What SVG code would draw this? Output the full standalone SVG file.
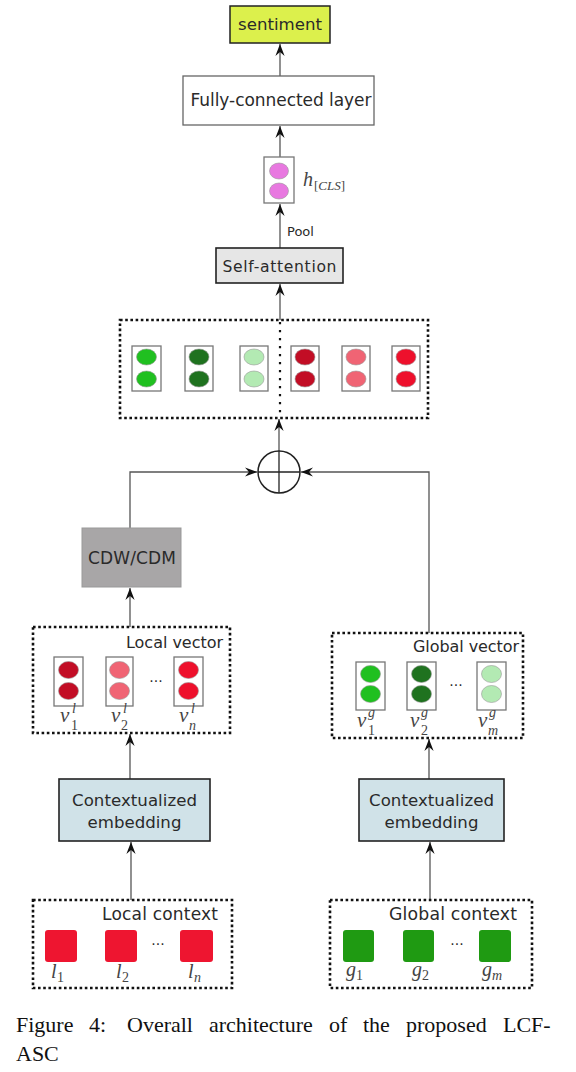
<svg xmlns="http://www.w3.org/2000/svg" width="576" height="1072" viewBox="0 0 576 1072">
<style>
.lbl{font-family:"DejaVu Sans",Verdana,sans-serif;fill:#2a2a2a}
.math{font-family:"Liberation Serif","Times New Roman",serif;font-style:italic;fill:#444}
.rm{font-family:"Liberation Serif","Times New Roman",serif;font-style:normal;fill:#444}
.dot{fill:none;stroke:#111;stroke-width:2.6;stroke-dasharray:2.6 2.6}
.vdot{fill:none;stroke:#111;stroke-width:2.2;stroke-dasharray:2.2 5.8}
.cell{fill:#fff;stroke:#777;stroke-width:1.3}
.conn{fill:none;stroke:#555;stroke-width:1.3}
.cap{font-family:"Liberation Serif","Times New Roman",serif;fill:#111;font-size:22px}
.e{stroke:#999;stroke-width:0.6}
</style>
<defs>
<marker id="arr" viewBox="-13 -6 14 12" refX="0" refY="0" markerWidth="14" markerHeight="12" markerUnits="userSpaceOnUse" orient="auto">
<path d="M0,0 L-12,-4.6 L-8,0 L-12,4.6 Z" fill="#111"/>
</marker>
</defs>
<rect width="576" height="1072" fill="#fff"/>

<g id="connectors">
<line class="conn" x1="280" y1="76" x2="280" y2="44" marker-end="url(#arr)"/>
<line class="conn" x1="280" y1="157" x2="280" y2="126" marker-end="url(#arr)"/>
<line class="conn" x1="280" y1="248" x2="280" y2="204" marker-end="url(#arr)"/>
<text class="lbl" x="287" y="236" font-size="13">Pool</text>
<line class="conn" x1="280" y1="320" x2="280" y2="284" marker-end="url(#arr)"/>
<line class="conn" x1="279" y1="451" x2="279" y2="419" marker-end="url(#arr)"/>
<polyline class="conn" points="130,528 130,472 257,472" marker-end="url(#arr)"/>
<polyline class="conn" points="429,633 429,472 301,472" marker-end="url(#arr)"/>
<line class="conn" x1="130" y1="627" x2="130" y2="588" marker-end="url(#arr)"/>
<line class="conn" x1="130" y1="779" x2="130" y2="734" marker-end="url(#arr)"/>
<line class="conn" x1="429" y1="779" x2="429" y2="739" marker-end="url(#arr)"/>
<line class="conn" x1="131" y1="900" x2="131" y2="842" marker-end="url(#arr)"/>
<line class="conn" x1="430" y1="900" x2="430" y2="842" marker-end="url(#arr)"/>
</g>

<g id="sentiment">
<rect x="230" y="6" width="100" height="37" fill="#dcf04c" stroke="#222" stroke-width="1.5"/>
<text class="lbl" x="280" y="30" font-size="16.6" text-anchor="middle" textLength="84">sentiment</text>
</g>

<g id="fc">
<rect x="183" y="76" width="191" height="49" fill="#fff" stroke="#666" stroke-width="1.3"/>
<text class="lbl" x="281" y="106" font-size="17" text-anchor="middle" textLength="181">Fully-connected layer</text>
</g>

<g id="hcls">
<rect class="cell" x="264" y="157" width="30" height="46"/>
<ellipse class="e" cx="279" cy="171" rx="9.5" ry="8" fill="#e878e0"/>
<ellipse class="e" cx="279" cy="191" rx="9.5" ry="8" fill="#e878e0"/>
<text class="math" x="303" y="186" font-size="20">h</text>
<text class="math" x="314" y="190" font-size="13"><tspan class="rm">[</tspan>CLS<tspan class="rm">]</tspan></text>
</g>

<g id="selfatt">
<rect x="216" y="248" width="127" height="35" fill="#e6e6e6" stroke="#222" stroke-width="1.6"/>
<text class="lbl" x="279.5" y="272" font-size="15.6" text-anchor="middle" textLength="114">Self-attention</text>
</g>

<g id="concat">
<rect class="dot" x="120" y="320" width="308" height="98"/>
<line class="vdot" x1="280" y1="322" x2="280" y2="418"/>
<rect class="cell" x="132" y="346" width="29" height="45"/>
<ellipse class="e" cx="146.5" cy="357" rx="10" ry="8" fill="#20c020"/>
<ellipse class="e" cx="146.5" cy="379" rx="10" ry="8" fill="#20c020"/>
<rect class="cell" x="185" y="346" width="28" height="45"/>
<ellipse class="e" cx="199" cy="357" rx="10" ry="8" fill="#1f721f"/>
<ellipse class="e" cx="199" cy="379" rx="10" ry="8" fill="#1f721f"/>
<rect class="cell" x="240" y="346" width="28" height="45"/>
<ellipse class="e" cx="254" cy="357" rx="10" ry="8" fill="#b3eab3"/>
<ellipse class="e" cx="254" cy="379" rx="10" ry="8" fill="#b3eab3"/>
<rect class="cell" x="291" y="346" width="28" height="45"/>
<ellipse class="e" cx="305" cy="357" rx="10" ry="8" fill="#c20d25"/>
<ellipse class="e" cx="305" cy="379" rx="10" ry="8" fill="#c20d25"/>
<rect class="cell" x="342" y="346" width="28" height="45"/>
<ellipse class="e" cx="356" cy="357" rx="10" ry="8" fill="#f06474"/>
<ellipse class="e" cx="356" cy="379" rx="10" ry="8" fill="#f06474"/>
<rect class="cell" x="392" y="346" width="28" height="45"/>
<ellipse class="e" cx="406" cy="357" rx="10" ry="8" fill="#ee102c"/>
<ellipse class="e" cx="406" cy="379" rx="10" ry="8" fill="#ee102c"/>
</g>

<g id="oplus">
<circle cx="279" cy="472" r="21" fill="#fff" stroke="#222" stroke-width="1.5"/>
<line x1="258" y1="472" x2="300" y2="472" stroke="#222" stroke-width="1.3"/>
<line x1="279" y1="451" x2="279" y2="493" stroke="#222" stroke-width="1.3"/>
</g>

<g id="cdw">
<rect x="82" y="528" width="99" height="59" fill="#a8a6a7" stroke="#999" stroke-width="1"/>
<text class="lbl" x="132" y="564" font-size="17" text-anchor="middle" textLength="88">CDW/CDM</text>
</g>

<g id="localvec">
<rect class="dot" x="33" y="627" width="197" height="106"/>
<text class="lbl" x="223" y="648" font-size="16" text-anchor="end" textLength="97">Local vector</text>
<rect class="cell" x="54" y="657" width="29" height="49"/>
<ellipse class="e" cx="68.5" cy="670" rx="10" ry="8.5" fill="#c20d25"/>
<ellipse class="e" cx="68.5" cy="691" rx="10" ry="8.5" fill="#c20d25"/>
<rect class="cell" x="106" y="657" width="27" height="49"/>
<ellipse class="e" cx="119.5" cy="670" rx="10" ry="8.5" fill="#f06474"/>
<ellipse class="e" cx="119.5" cy="691" rx="10" ry="8.5" fill="#f06474"/>
<text class="lbl" x="156" y="686" font-size="14" text-anchor="middle">···</text>
<rect class="cell" x="174" y="657" width="29" height="49"/>
<ellipse class="e" cx="188.5" cy="670" rx="10" ry="8.5" fill="#ee102c"/>
<ellipse class="e" cx="188.5" cy="691" rx="10" ry="8.5" fill="#ee102c"/>
<text class="math" x="60" y="722" font-size="21">v</text>
<text class="math" x="72" y="713" font-size="14">l</text>
<text class="rm" x="71" y="730" font-size="14">1</text>
<text class="math" x="111" y="722" font-size="21">v</text>
<text class="math" x="123" y="713" font-size="14">l</text>
<text class="rm" x="121" y="730" font-size="14">2</text>
<text class="math" x="179" y="722" font-size="21">v</text>
<text class="math" x="191" y="713" font-size="14">l</text>
<text class="math" x="189" y="730" font-size="14">n</text>
</g>

<g id="globalvec">
<rect class="dot" x="332" y="633" width="191" height="105"/>
<text class="lbl" x="519" y="652" font-size="16" text-anchor="end" textLength="106">Global vector</text>
<rect class="cell" x="356" y="662" width="29" height="48"/>
<ellipse class="e" cx="370.5" cy="674" rx="10" ry="8.5" fill="#20c020"/>
<ellipse class="e" cx="370.5" cy="694" rx="10" ry="8.5" fill="#20c020"/>
<rect class="cell" x="407" y="662" width="29" height="48"/>
<ellipse class="e" cx="421.5" cy="674" rx="10" ry="8.5" fill="#1f721f"/>
<ellipse class="e" cx="421.5" cy="694" rx="10" ry="8.5" fill="#1f721f"/>
<text class="lbl" x="456" y="690" font-size="14" text-anchor="middle">···</text>
<rect class="cell" x="477" y="662" width="29" height="48"/>
<ellipse class="e" cx="491.5" cy="674" rx="10" ry="8.5" fill="#b3eab3"/>
<ellipse class="e" cx="491.5" cy="694" rx="10" ry="8.5" fill="#b3eab3"/>
<text class="math" x="357" y="727" font-size="21">v</text>
<text class="math" x="368" y="717" font-size="14">g</text>
<text class="rm" x="368" y="735" font-size="14">1</text>
<text class="math" x="410" y="727" font-size="21">v</text>
<text class="math" x="421" y="717" font-size="14">g</text>
<text class="rm" x="421" y="735" font-size="14">2</text>
<text class="math" x="478" y="727" font-size="21">v</text>
<text class="math" x="489" y="717" font-size="14">g</text>
<text class="math" x="488" y="735" font-size="14">m</text>
</g>

<g id="embed_local">
<rect x="59" y="779" width="151" height="62" fill="#d0e2e8" stroke="#222" stroke-width="1.6"/>
<text class="lbl" x="134.5" y="806" font-size="16.6" text-anchor="middle" textLength="125">Contextualized</text>
<text class="lbl" x="134.5" y="828" font-size="16.6" text-anchor="middle">embedding</text>
</g>

<g id="embed_global">
<rect x="359" y="779" width="145" height="62" fill="#d0e2e8" stroke="#222" stroke-width="1.6"/>
<text class="lbl" x="431.5" y="806" font-size="16.6" text-anchor="middle" textLength="125">Contextualized</text>
<text class="lbl" x="431.5" y="828" font-size="16.6" text-anchor="middle">embedding</text>
</g>

<g id="localctx">
<rect class="dot" x="33" y="900" width="199" height="88"/>
<text class="lbl" x="218" y="920" font-size="17" text-anchor="end" textLength="116">Local context</text>
<rect x="45" y="930" width="32" height="32" rx="3" fill="#ee1530"/>
<rect x="105" y="930" width="32" height="32" rx="3" fill="#ee1530"/>
<text class="lbl" x="158" y="949" font-size="14" text-anchor="middle">···</text>
<rect x="180" y="930" width="33" height="32" rx="3" fill="#ee1530"/>
<text class="math" x="51" y="978" font-size="20">l</text>
<text class="rm" x="57" y="982" font-size="14">1</text>
<text class="math" x="116" y="978" font-size="20">l</text>
<text class="rm" x="122" y="982" font-size="14">2</text>
<text class="math" x="188" y="978" font-size="20">l</text>
<text class="math" x="194" y="982" font-size="14">n</text>
</g>

<g id="globalctx">
<rect class="dot" x="330" y="900" width="202" height="88"/>
<text class="lbl" x="517" y="920" font-size="17.3" text-anchor="end" textLength="128">Global context</text>
<rect x="343" y="930" width="31" height="32" rx="3" fill="#1f9a12"/>
<rect x="403" y="930" width="31" height="32" rx="3" fill="#1f9a12"/>
<text class="lbl" x="457" y="949" font-size="14" text-anchor="middle">···</text>
<rect x="479" y="930" width="32" height="32" rx="3" fill="#1f9a12"/>
<text class="math" x="346" y="976" font-size="20">g</text>
<text class="rm" x="356" y="980" font-size="14">1</text>
<text class="math" x="412" y="976" font-size="20">g</text>
<text class="rm" x="422" y="980" font-size="14">2</text>
<text class="math" x="482" y="976" font-size="20">g</text>
<text class="math" x="492" y="980" font-size="14">m</text>
</g>

<g id="caption">
<text class="cap" y="1032"><tspan x="16">Figure</tspan><tspan x="89">4:</tspan><tspan x="127">Overall</tspan><tspan x="209">architecture</tspan><tspan x="329">of</tspan><tspan x="363">the</tspan><tspan x="406">proposed</tspan><tspan x="503">LCF-</tspan></text>
<text class="cap" x="16" y="1061">ASC</text>
</g>
</svg>
